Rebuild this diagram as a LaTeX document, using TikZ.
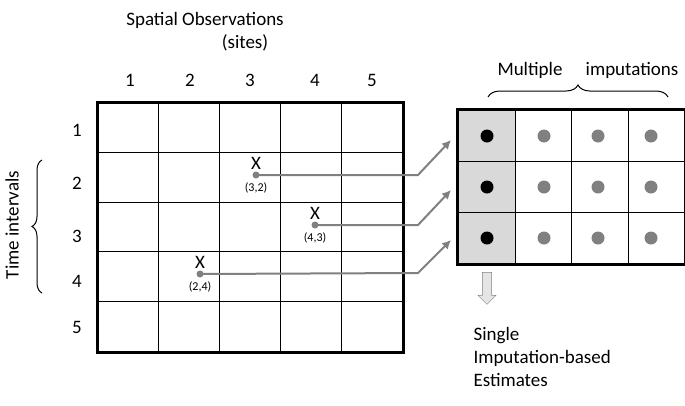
\documentclass[tikz,border=0pt]{standalone}
\usepackage{fontspec}
\setmainfont{Carlito}
\usetikzlibrary{decorations.pathreplacing,arrows.meta,shapes.arrows}
\begin{document}
\begin{tikzpicture}[x=1pt,y=-1pt,
  lbl/.style={font=\fontsize{19}{23}\selectfont},
  small/.style={font=\fontsize{12}{14}\selectfont},
  conn/.style={draw=gray,line width=2pt,-{Latex[length=9pt,width=9pt]}},
  gdot/.style={circle,fill=gray,minimum size=13pt,inner sep=0pt},
  bdot/.style={circle,fill=black,minimum size=13pt,inner sep=0pt}]
\useasboundingbox (0,0) rectangle (685,405);
\node[lbl] (title) at (205,20) {Spatial Observations};
\node[lbl] (sites) at (245,43) {(sites)};
% left grid
\foreach \x in {158,219,280,341} \draw[line width=1pt] (\x,102) -- (\x,352);
\foreach \y in {152,202,251,301} \draw[line width=1pt] (97,\y) -- (403,\y);
\draw[line width=3pt] (97,102) rectangle (403,352);
\foreach \x/\t in {130/1,190/2,250/3,315/4,372/5} \node[lbl] (c\t) at (\x,80) {\t};
\foreach \y/\t in {130/1,183/2,236/3,281/4,327/5} \node[lbl] (r\t) at (77,\y) {\t};
\node[lbl] (ti) at (12,225) [rotate=90] {Time intervals};
\draw[decorate,decoration={brace,amplitude=10pt},line width=1pt] (42,293) -- (42,160);
% right grid
\fill[gray!30] (457,109) rectangle (515,264);
\foreach \x in {515,571,628} \draw[line width=1pt] (\x,109) -- (\x,264);
\foreach \y in {161,212} \draw[line width=1pt] (457,\y) -- (685,\y);
\draw[line width=3pt] (457,109) rectangle (685,264);
\foreach \y/\i in {136/1,187/2,238/3}{
  \node[bdot] (b\i) at (487,\y) {};
  \node[gdot] (g\i a) at (544,\y) {};
  \node[gdot] (g\i b) at (598,\y) {};
  \node[gdot] (g\i c) at (651,\y) {};
}
\node[lbl] (mult) at (530,70) {Multiple};
\node[lbl] (imp) at (632,70) {imputations};
\draw[decorate,decoration={brace,amplitude=12pt},line width=1pt] (488,97) -- (668,97);
% marks
\foreach \x/\y/\l/\n in {256/163/{(3,2)}/a,315/213/{(4,3)}/b,200/262/{(2,4)}/c}{
  \node[lbl] (x\n) at (\x,\y) {X};
  \node[circle,fill=gray,minimum size=7pt,inner sep=0pt] (d\n) at (\x,\y+12) {};
  \node[small] (l\n) at (\x,\y+25) {\l};
}
\coordinate (ta) at (451,140);
\coordinate (tb) at (451,190);
\coordinate (tc) at (451,240);
\draw[conn] (da.center) -- (418,175) -- (ta);
\draw[conn] (db.center) -- (418,225) -- (tb);
\draw[conn] (dc.center) -- (418,273) -- (tc);
% down arrow
\node[single arrow,draw=gray,fill=gray!20,shape border rotate=270,minimum height=32pt,minimum width=18pt,single arrow head extend=3pt,inner sep=3pt] (down) at (487,286) {};
\node[lbl,align=left,anchor=north west] (est) at (470,324) {Single\\Imputation-based\\Estimates};
\end{tikzpicture}
\end{document}
